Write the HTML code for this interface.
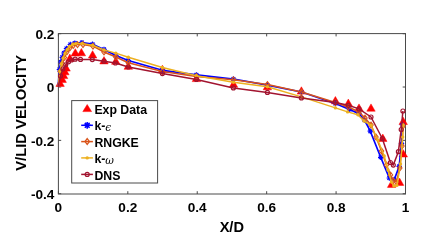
<!DOCTYPE html>
<html><head><meta charset="utf-8"><title>V/LID VELOCITY vs X/D</title>
<style>html,body{margin:0;padding:0;background:#fff;width:448px;height:252px;overflow:hidden}svg{display:block;filter:blur(0.4px)}</style>
</head><body>
<svg width="448" height="252" viewBox="0 0 448 252"><rect x="58.4" y="33.6" width="347.1" height="160.4" fill="#fff" stroke="#4a4a4a" stroke-width="1"/>
<path d="M58.40,194.0V191.2M58.40,33.6V36.4" stroke="#4a4a4a" stroke-width="1"/>
<path d="M127.82,194.0V191.2M127.82,33.6V36.4" stroke="#4a4a4a" stroke-width="1"/>
<path d="M197.24,194.0V191.2M197.24,33.6V36.4" stroke="#4a4a4a" stroke-width="1"/>
<path d="M266.66,194.0V191.2M266.66,33.6V36.4" stroke="#4a4a4a" stroke-width="1"/>
<path d="M336.08,194.0V191.2M336.08,33.6V36.4" stroke="#4a4a4a" stroke-width="1"/>
<path d="M405.50,194.0V191.2M405.50,33.6V36.4" stroke="#4a4a4a" stroke-width="1"/>
<path d="M58.4,33.69H61.199999999999996M405.5,33.69H402.7" stroke="#4a4a4a" stroke-width="1"/>
<path d="M58.4,87.03H61.199999999999996M405.5,87.03H402.7" stroke="#4a4a4a" stroke-width="1"/>
<path d="M58.4,140.37H61.199999999999996M405.5,140.37H402.7" stroke="#4a4a4a" stroke-width="1"/>
<path d="M58.4,193.71H61.199999999999996M405.5,193.71H402.7" stroke="#4a4a4a" stroke-width="1"/>
<path d="M60.1,79.1 L64.3,86.4 L55.9,86.4Z" fill="#ff0000" stroke="#ff0000" stroke-width="0.5"/>
<path d="M62.2,75.1 L66.4,82.4 L58.0,82.4Z" fill="#ff0000" stroke="#ff0000" stroke-width="0.5"/>
<path d="M63.6,71.3 L67.8,78.6 L59.4,78.6Z" fill="#ff0000" stroke="#ff0000" stroke-width="0.5"/>
<path d="M64.9,67.5 L69.1,74.8 L60.7,74.8Z" fill="#ff0000" stroke="#ff0000" stroke-width="0.5"/>
<path d="M66.1,63.8 L70.3,71.1 L61.9,71.1Z" fill="#ff0000" stroke="#ff0000" stroke-width="0.5"/>
<path d="M69.8,54.1 L74.0,61.4 L65.6,61.4Z" fill="#ff0000" stroke="#ff0000" stroke-width="0.5"/>
<path d="M75.3,48.7 L79.5,56.0 L71.1,56.0Z" fill="#ff0000" stroke="#ff0000" stroke-width="0.5"/>
<path d="M81.4,48.5 L85.6,55.8 L77.2,55.8Z" fill="#ff0000" stroke="#ff0000" stroke-width="0.5"/>
<path d="M92.6,50.7 L96.8,58.0 L88.4,58.0Z" fill="#ff0000" stroke="#ff0000" stroke-width="0.5"/>
<path d="M104.0,56.6 L108.2,63.9 L99.8,63.9Z" fill="#ff0000" stroke="#ff0000" stroke-width="0.5"/>
<path d="M115.8,57.0 L120.0,64.3 L111.6,64.3Z" fill="#ff0000" stroke="#ff0000" stroke-width="0.5"/>
<path d="M128.3,62.0 L132.5,69.3 L124.1,69.3Z" fill="#ff0000" stroke="#ff0000" stroke-width="0.5"/>
<path d="M162.4,65.2 L166.6,72.5 L158.2,72.5Z" fill="#ff0000" stroke="#ff0000" stroke-width="0.5"/>
<path d="M196.4,74.3 L200.6,81.6 L192.2,81.6Z" fill="#ff0000" stroke="#ff0000" stroke-width="0.5"/>
<path d="M233.5,80.0 L237.7,87.3 L229.3,87.3Z" fill="#ff0000" stroke="#ff0000" stroke-width="0.5"/>
<path d="M267.4,82.5 L271.6,89.8 L263.2,89.8Z" fill="#ff0000" stroke="#ff0000" stroke-width="0.5"/>
<path d="M301.4,86.8 L305.6,94.1 L297.2,94.1Z" fill="#ff0000" stroke="#ff0000" stroke-width="0.5"/>
<path d="M335.4,96.5 L339.6,103.8 L331.2,103.8Z" fill="#ff0000" stroke="#ff0000" stroke-width="0.5"/>
<path d="M348.3,99.1 L352.5,106.4 L344.1,106.4Z" fill="#ff0000" stroke="#ff0000" stroke-width="0.5"/>
<path d="M359.0,103.9 L363.2,111.2 L354.8,111.2Z" fill="#ff0000" stroke="#ff0000" stroke-width="0.5"/>
<path d="M371.0,103.9 L375.2,111.2 L366.8,111.2Z" fill="#ff0000" stroke="#ff0000" stroke-width="0.5"/>
<path d="M382.8,134.1 L387.0,141.4 L378.6,141.4Z" fill="#ff0000" stroke="#ff0000" stroke-width="0.5"/>
<path d="M391.6,180.1 L395.8,187.4 L387.4,187.4Z" fill="#ff0000" stroke="#ff0000" stroke-width="0.5"/>
<path d="M399.6,178.1 L403.8,185.4 L395.4,185.4Z" fill="#ff0000" stroke="#ff0000" stroke-width="0.5"/>
<path d="M403.3,149.7 L407.5,157.0 L399.1,157.0Z" fill="#ff0000" stroke="#ff0000" stroke-width="0.5"/>
<path d="M403.2,117.2 L407.4,124.5 L399.0,124.5Z" fill="#ff0000" stroke="#ff0000" stroke-width="0.5"/>
<polyline points="58.2,87.0 59.4,69.5 60.9,62.0 62.3,57.3 64.0,53.0 66.5,48.5 70.3,44.5 74.8,43.2 81.9,42.6 92.5,44.2 104.0,49.4 115.8,55.5 128.3,60.5 162.4,70.3 196.4,74.9 233.4,79.0 267.4,85.2 301.4,92.0 335.4,103.5 349.5,109.5 359.0,113.6 364.5,120.0 370.3,131.2 380.7,157.3 389.3,178.0 394.3,179.5 399.2,166.4 401.5,143.7 402.5,125.0" fill="none" stroke="#0000ff" stroke-width="1.7" stroke-linejoin="round"/>
<path d="M56.7,69.5H62.1M59.4,66.8V72.2M57.5,67.6L61.3,71.4M57.5,71.4L61.3,67.6" stroke="#0000ff" stroke-width="1.2" fill="none"/>
<path d="M58.2,62.0H63.6M60.9,59.3V64.7M59.0,60.1L62.8,63.9M59.0,63.9L62.8,60.1" stroke="#0000ff" stroke-width="1.2" fill="none"/>
<path d="M59.6,57.3H65.0M62.3,54.6V60.0M60.4,55.4L64.2,59.2M60.4,59.2L64.2,55.4" stroke="#0000ff" stroke-width="1.2" fill="none"/>
<path d="M61.3,53.0H66.7M64.0,50.3V55.7M62.1,51.1L65.9,54.9M62.1,54.9L65.9,51.1" stroke="#0000ff" stroke-width="1.2" fill="none"/>
<path d="M63.8,48.5H69.2M66.5,45.8V51.2M64.6,46.6L68.4,50.4M64.6,50.4L68.4,46.6" stroke="#0000ff" stroke-width="1.2" fill="none"/>
<path d="M67.6,44.5H73.0M70.3,41.8V47.2M68.4,42.6L72.2,46.4M68.4,46.4L72.2,42.6" stroke="#0000ff" stroke-width="1.2" fill="none"/>
<path d="M72.0,43.2H77.5M74.8,40.5V45.9M72.8,41.3L76.7,45.1M72.8,45.1L76.7,41.3" stroke="#0000ff" stroke-width="1.2" fill="none"/>
<path d="M79.2,42.6H84.6M81.9,39.9V45.3M80.0,40.7L83.8,44.5M80.0,44.5L83.8,40.7" stroke="#0000ff" stroke-width="1.2" fill="none"/>
<path d="M89.8,44.2H95.2M92.5,41.5V46.9M90.6,42.3L94.4,46.1M90.6,46.1L94.4,42.3" stroke="#0000ff" stroke-width="1.2" fill="none"/>
<path d="M101.3,49.4H106.7M104.0,46.7V52.1M102.1,47.5L105.9,51.3M102.1,51.3L105.9,47.5" stroke="#0000ff" stroke-width="1.2" fill="none"/>
<path d="M113.1,55.5H118.5M115.8,52.8V58.2M113.9,53.6L117.7,57.4M113.9,57.4L117.7,53.6" stroke="#0000ff" stroke-width="1.2" fill="none"/>
<path d="M125.6,60.5H131.0M128.3,57.8V63.2M126.4,58.6L130.2,62.4M126.4,62.4L130.2,58.6" stroke="#0000ff" stroke-width="1.2" fill="none"/>
<path d="M159.7,70.3H165.1M162.4,67.6V73.0M160.5,68.4L164.3,72.2M160.5,72.2L164.3,68.4" stroke="#0000ff" stroke-width="1.2" fill="none"/>
<path d="M193.7,74.9H199.1M196.4,72.2V77.6M194.5,73.0L198.3,76.8M194.5,76.8L198.3,73.0" stroke="#0000ff" stroke-width="1.2" fill="none"/>
<path d="M230.7,79.0H236.1M233.4,76.3V81.7M231.5,77.1L235.3,80.9M231.5,80.9L235.3,77.1" stroke="#0000ff" stroke-width="1.2" fill="none"/>
<path d="M264.7,85.2H270.1M267.4,82.5V87.9M265.5,83.3L269.3,87.1M265.5,87.1L269.3,83.3" stroke="#0000ff" stroke-width="1.2" fill="none"/>
<path d="M298.7,92.0H304.1M301.4,89.3V94.7M299.5,90.1L303.3,93.9M299.5,93.9L303.3,90.1" stroke="#0000ff" stroke-width="1.2" fill="none"/>
<path d="M332.7,103.5H338.1M335.4,100.8V106.2M333.5,101.6L337.3,105.4M333.5,105.4L337.3,101.6" stroke="#0000ff" stroke-width="1.2" fill="none"/>
<path d="M346.8,109.5H352.2M349.5,106.8V112.2M347.6,107.6L351.4,111.4M347.6,111.4L351.4,107.6" stroke="#0000ff" stroke-width="1.2" fill="none"/>
<path d="M356.3,113.6H361.7M359.0,110.9V116.3M357.1,111.7L360.9,115.5M357.1,115.5L360.9,111.7" stroke="#0000ff" stroke-width="1.2" fill="none"/>
<path d="M361.8,120.0H367.2M364.5,117.3V122.7M362.6,118.1L366.4,121.9M362.6,121.9L366.4,118.1" stroke="#0000ff" stroke-width="1.2" fill="none"/>
<path d="M367.6,131.2H373.0M370.3,128.5V133.9M368.4,129.3L372.2,133.1M368.4,133.1L372.2,129.3" stroke="#0000ff" stroke-width="1.2" fill="none"/>
<path d="M378.0,157.3H383.4M380.7,154.6V160.0M378.8,155.4L382.6,159.2M378.8,159.2L382.6,155.4" stroke="#0000ff" stroke-width="1.2" fill="none"/>
<path d="M386.6,178.0H392.0M389.3,175.3V180.7M387.4,176.1L391.2,179.9M387.4,179.9L391.2,176.1" stroke="#0000ff" stroke-width="1.2" fill="none"/>
<path d="M391.6,179.5H397.0M394.3,176.8V182.2M392.4,177.6L396.2,181.4M392.4,181.4L396.2,177.6" stroke="#0000ff" stroke-width="1.2" fill="none"/>
<path d="M396.5,166.4H401.9M399.2,163.7V169.1M397.3,164.5L401.1,168.3M397.3,168.3L401.1,164.5" stroke="#0000ff" stroke-width="1.2" fill="none"/>
<path d="M398.8,143.7H404.2M401.5,141.0V146.4M399.6,141.8L403.4,145.6M399.6,145.6L403.4,141.8" stroke="#0000ff" stroke-width="1.2" fill="none"/>
<path d="M399.8,125.0H405.2M402.5,122.3V127.7M400.6,123.1L404.4,126.9M400.6,126.9L404.4,123.1" stroke="#0000ff" stroke-width="1.2" fill="none"/>
<polyline points="58.2,87.0 60.3,71.5 62.2,63.5 64.3,57.5 66.8,52.0 69.8,48.0 73.3,45.5 77.5,44.6 83.0,44.6 93.0,46.2 104.0,52.0 115.8,57.0 128.3,62.8 162.4,71.6 196.4,76.5 233.4,79.8 267.4,84.5 301.4,92.0 335.4,102.5 348.3,107.0 359.0,112.0 365.0,118.0 371.0,125.0 376.0,137.0 381.5,151.0 386.5,165.0 390.5,175.0 393.3,180.7 396.5,182.0 399.8,168.0 402.0,146.0 403.0,126.0" fill="none" stroke="#d95319" stroke-width="1.5" stroke-linejoin="round"/>
<path d="M60.3,68.6L62.5,71.5L60.3,74.4L58.1,71.5Z" stroke="#d95319" stroke-width="1.1" fill="none"/>
<path d="M62.2,60.6L64.4,63.5L62.2,66.4L60.0,63.5Z" stroke="#d95319" stroke-width="1.1" fill="none"/>
<path d="M64.3,54.6L66.5,57.5L64.3,60.4L62.1,57.5Z" stroke="#d95319" stroke-width="1.1" fill="none"/>
<path d="M66.8,49.1L69.0,52.0L66.8,54.9L64.6,52.0Z" stroke="#d95319" stroke-width="1.1" fill="none"/>
<path d="M69.8,45.1L72.0,48.0L69.8,50.9L67.6,48.0Z" stroke="#d95319" stroke-width="1.1" fill="none"/>
<path d="M73.3,42.6L75.5,45.5L73.3,48.4L71.1,45.5Z" stroke="#d95319" stroke-width="1.1" fill="none"/>
<path d="M77.5,41.7L79.7,44.6L77.5,47.5L75.3,44.6Z" stroke="#d95319" stroke-width="1.1" fill="none"/>
<path d="M83.0,41.7L85.2,44.6L83.0,47.5L80.8,44.6Z" stroke="#d95319" stroke-width="1.1" fill="none"/>
<path d="M93.0,43.3L95.2,46.2L93.0,49.1L90.8,46.2Z" stroke="#d95319" stroke-width="1.1" fill="none"/>
<path d="M104.0,49.1L106.2,52.0L104.0,54.9L101.8,52.0Z" stroke="#d95319" stroke-width="1.1" fill="none"/>
<path d="M115.8,54.1L118.0,57.0L115.8,59.9L113.6,57.0Z" stroke="#d95319" stroke-width="1.1" fill="none"/>
<path d="M128.3,59.9L130.5,62.8L128.3,65.7L126.1,62.8Z" stroke="#d95319" stroke-width="1.1" fill="none"/>
<path d="M162.4,68.7L164.6,71.6L162.4,74.5L160.2,71.6Z" stroke="#d95319" stroke-width="1.1" fill="none"/>
<path d="M196.4,73.6L198.6,76.5L196.4,79.4L194.2,76.5Z" stroke="#d95319" stroke-width="1.1" fill="none"/>
<path d="M233.4,76.9L235.6,79.8L233.4,82.7L231.2,79.8Z" stroke="#d95319" stroke-width="1.1" fill="none"/>
<path d="M267.4,81.6L269.6,84.5L267.4,87.4L265.2,84.5Z" stroke="#d95319" stroke-width="1.1" fill="none"/>
<path d="M301.4,89.1L303.6,92.0L301.4,94.9L299.2,92.0Z" stroke="#d95319" stroke-width="1.1" fill="none"/>
<path d="M335.4,99.6L337.6,102.5L335.4,105.4L333.2,102.5Z" stroke="#d95319" stroke-width="1.1" fill="none"/>
<path d="M348.3,104.1L350.5,107.0L348.3,109.9L346.1,107.0Z" stroke="#d95319" stroke-width="1.1" fill="none"/>
<path d="M359.0,109.1L361.2,112.0L359.0,114.9L356.8,112.0Z" stroke="#d95319" stroke-width="1.1" fill="none"/>
<path d="M365.0,115.1L367.2,118.0L365.0,120.9L362.8,118.0Z" stroke="#d95319" stroke-width="1.1" fill="none"/>
<path d="M371.0,122.1L373.2,125.0L371.0,127.9L368.8,125.0Z" stroke="#d95319" stroke-width="1.1" fill="none"/>
<path d="M376.0,134.1L378.2,137.0L376.0,139.9L373.8,137.0Z" stroke="#d95319" stroke-width="1.1" fill="none"/>
<path d="M381.5,148.1L383.7,151.0L381.5,153.9L379.3,151.0Z" stroke="#d95319" stroke-width="1.1" fill="none"/>
<path d="M386.5,162.1L388.7,165.0L386.5,167.9L384.3,165.0Z" stroke="#d95319" stroke-width="1.1" fill="none"/>
<path d="M390.5,172.1L392.7,175.0L390.5,177.9L388.3,175.0Z" stroke="#d95319" stroke-width="1.1" fill="none"/>
<path d="M393.3,177.8L395.5,180.7L393.3,183.6L391.1,180.7Z" stroke="#d95319" stroke-width="1.1" fill="none"/>
<path d="M396.5,179.1L398.7,182.0L396.5,184.9L394.3,182.0Z" stroke="#d95319" stroke-width="1.1" fill="none"/>
<path d="M399.8,165.1L402.0,168.0L399.8,170.9L397.6,168.0Z" stroke="#d95319" stroke-width="1.1" fill="none"/>
<path d="M402.0,143.1L404.2,146.0L402.0,148.9L399.8,146.0Z" stroke="#d95319" stroke-width="1.1" fill="none"/>
<path d="M403.0,123.1L405.2,126.0L403.0,128.9L400.8,126.0Z" stroke="#d95319" stroke-width="1.1" fill="none"/>
<polyline points="58.2,87.0 59.9,71.0 61.5,64.0 63.1,58.3 65.0,53.5 67.2,49.5 69.5,46.5 72.5,44.5 75.6,43.6 81.9,43.5 92.5,45.2 104.0,49.9 115.8,53.1 128.3,57.3 162.4,67.5 196.4,75.7 233.4,82.2 267.4,86.8 301.4,96.9 335.4,107.9 347.6,111.9 357.9,114.8 364.0,121.0 371.0,125.2 377.8,140.0 384.2,156.0 388.0,170.0 391.5,182.0 393.9,186.0 396.9,185.4 400.5,164.0 402.7,137.0 403.2,125.0" fill="none" stroke="#edb120" stroke-width="1.5" stroke-linejoin="round"/>
<circle cx="59.9" cy="71.0" r="1.7" fill="#edb120"/>
<circle cx="61.5" cy="64.0" r="1.7" fill="#edb120"/>
<circle cx="63.1" cy="58.3" r="1.7" fill="#edb120"/>
<circle cx="65.0" cy="53.5" r="1.7" fill="#edb120"/>
<circle cx="67.2" cy="49.5" r="1.7" fill="#edb120"/>
<circle cx="69.5" cy="46.5" r="1.7" fill="#edb120"/>
<circle cx="72.5" cy="44.5" r="1.7" fill="#edb120"/>
<circle cx="75.6" cy="43.6" r="1.7" fill="#edb120"/>
<circle cx="81.9" cy="43.5" r="1.7" fill="#edb120"/>
<circle cx="92.5" cy="45.2" r="1.7" fill="#edb120"/>
<circle cx="104.0" cy="49.9" r="1.7" fill="#edb120"/>
<circle cx="115.8" cy="53.1" r="1.7" fill="#edb120"/>
<circle cx="128.3" cy="57.3" r="1.7" fill="#edb120"/>
<circle cx="162.4" cy="67.5" r="1.7" fill="#edb120"/>
<circle cx="196.4" cy="75.7" r="1.7" fill="#edb120"/>
<circle cx="233.4" cy="82.2" r="1.7" fill="#edb120"/>
<circle cx="267.4" cy="86.8" r="1.7" fill="#edb120"/>
<circle cx="301.4" cy="96.9" r="1.7" fill="#edb120"/>
<circle cx="335.4" cy="107.9" r="1.7" fill="#edb120"/>
<circle cx="347.6" cy="111.9" r="1.7" fill="#edb120"/>
<circle cx="357.9" cy="114.8" r="1.7" fill="#edb120"/>
<circle cx="364.0" cy="121.0" r="1.7" fill="#edb120"/>
<circle cx="371.0" cy="125.2" r="1.7" fill="#edb120"/>
<circle cx="377.8" cy="140.0" r="1.7" fill="#edb120"/>
<circle cx="384.2" cy="156.0" r="1.7" fill="#edb120"/>
<circle cx="388.0" cy="170.0" r="1.7" fill="#edb120"/>
<circle cx="391.5" cy="182.0" r="1.7" fill="#edb120"/>
<circle cx="393.9" cy="186.0" r="1.7" fill="#edb120"/>
<circle cx="396.9" cy="185.4" r="1.7" fill="#edb120"/>
<circle cx="400.5" cy="164.0" r="1.7" fill="#edb120"/>
<circle cx="402.7" cy="137.0" r="1.7" fill="#edb120"/>
<circle cx="403.2" cy="125.0" r="1.7" fill="#edb120"/>
<polyline points="58.2,87.0 60.5,76.0 62.9,69.0 65.7,64.8 68.5,61.8 71.5,60.0 75.2,59.2 80.5,59.4 92.3,59.6 104.0,61.2 115.4,63.0 128.3,67.0 162.4,73.6 196.4,79.4 233.4,87.9 267.4,92.4 301.4,97.9 335.4,102.4 348.3,105.3 359.0,108.9 371.0,117.0 382.3,138.5 390.4,162.5 393.3,165.1 398.4,151.7 401.2,129.5 402.9,111.0" fill="none" stroke="#a2142f" stroke-width="1.5" stroke-linejoin="round"/>
<circle cx="60.5" cy="76.0" r="2.0" stroke="#a2142f" stroke-width="1.2" fill="none"/>
<circle cx="62.9" cy="69.0" r="2.0" stroke="#a2142f" stroke-width="1.2" fill="none"/>
<circle cx="65.7" cy="64.8" r="2.0" stroke="#a2142f" stroke-width="1.2" fill="none"/>
<circle cx="68.5" cy="61.8" r="2.0" stroke="#a2142f" stroke-width="1.2" fill="none"/>
<circle cx="71.5" cy="60.0" r="2.0" stroke="#a2142f" stroke-width="1.2" fill="none"/>
<circle cx="75.2" cy="59.2" r="2.0" stroke="#a2142f" stroke-width="1.2" fill="none"/>
<circle cx="80.5" cy="59.4" r="2.0" stroke="#a2142f" stroke-width="1.2" fill="none"/>
<circle cx="92.3" cy="59.6" r="2.0" stroke="#a2142f" stroke-width="1.2" fill="none"/>
<circle cx="104.0" cy="61.2" r="2.0" stroke="#a2142f" stroke-width="1.2" fill="none"/>
<circle cx="115.4" cy="63.0" r="2.0" stroke="#a2142f" stroke-width="1.2" fill="none"/>
<circle cx="128.3" cy="67.0" r="2.0" stroke="#a2142f" stroke-width="1.2" fill="none"/>
<circle cx="162.4" cy="73.6" r="2.0" stroke="#a2142f" stroke-width="1.2" fill="none"/>
<circle cx="196.4" cy="79.4" r="2.0" stroke="#a2142f" stroke-width="1.2" fill="none"/>
<circle cx="233.4" cy="87.9" r="2.0" stroke="#a2142f" stroke-width="1.2" fill="none"/>
<circle cx="267.4" cy="92.4" r="2.0" stroke="#a2142f" stroke-width="1.2" fill="none"/>
<circle cx="301.4" cy="97.9" r="2.0" stroke="#a2142f" stroke-width="1.2" fill="none"/>
<circle cx="335.4" cy="102.4" r="2.0" stroke="#a2142f" stroke-width="1.2" fill="none"/>
<circle cx="348.3" cy="105.3" r="2.0" stroke="#a2142f" stroke-width="1.2" fill="none"/>
<circle cx="359.0" cy="108.9" r="2.0" stroke="#a2142f" stroke-width="1.2" fill="none"/>
<circle cx="371.0" cy="117.0" r="2.0" stroke="#a2142f" stroke-width="1.2" fill="none"/>
<circle cx="382.3" cy="138.5" r="2.0" stroke="#a2142f" stroke-width="1.2" fill="none"/>
<circle cx="390.4" cy="162.5" r="2.0" stroke="#a2142f" stroke-width="1.2" fill="none"/>
<circle cx="393.3" cy="165.1" r="2.0" stroke="#a2142f" stroke-width="1.2" fill="none"/>
<circle cx="398.4" cy="151.7" r="2.0" stroke="#a2142f" stroke-width="1.2" fill="none"/>
<circle cx="401.2" cy="129.5" r="2.0" stroke="#a2142f" stroke-width="1.2" fill="none"/>
<circle cx="402.9" cy="111.0" r="2.0" stroke="#a2142f" stroke-width="1.2" fill="none"/>
<g font-family="Liberation Sans, Arial, sans-serif" font-weight="bold" font-size="13.6" fill="#000"><text x="54.4" y="39.0" text-anchor="end">0.2</text><text x="54.4" y="92.3" text-anchor="end">0</text><text x="54.4" y="145.7" text-anchor="end">-0.2</text><text x="54.4" y="199.0" text-anchor="end">-0.4</text><text x="58.4" y="211.6" text-anchor="middle">0</text><text x="127.8" y="211.6" text-anchor="middle">0.2</text><text x="197.2" y="211.6" text-anchor="middle">0.4</text><text x="266.7" y="211.6" text-anchor="middle">0.6</text><text x="336.1" y="211.6" text-anchor="middle">0.8</text><text x="405.5" y="211.6" text-anchor="middle">1</text></g>
<text x="231.8" y="231.8" text-anchor="middle" font-family="Liberation Sans, Arial, sans-serif" font-weight="bold" font-size="14.6">X/D</text>
<text transform="translate(26.4,112.9) rotate(-90)" x="0" y="0" text-anchor="middle" font-family="Liberation Sans, Arial, sans-serif" font-weight="bold" font-size="14.8">V/LID VELOCITY</text>
<rect x="71.7" y="100.6" width="85.9" height="82.4" fill="#fff" stroke="#4a4a4a" stroke-width="1"/>
<path d="M87.2,104.5 L91.6,111.6 L82.8,111.6Z" fill="#ff0000" stroke="#ff0000" stroke-width="0.5"/>
<path d="M81.2,125.3H92.9" stroke="#0000ff" stroke-width="1.5"/>
<path d="M83.8,125.3H90.6M87.2,121.9V128.7M84.8,122.9L89.6,127.7M84.8,127.7L89.6,122.9" stroke="#0000ff" stroke-width="1.5" fill="none"/>
<path d="M81.2,141.6H92.9" stroke="#d95319" stroke-width="1.5"/>
<path d="M87.2,138.7L89.4,141.6L87.2,144.5L85.0,141.6Z" stroke="#d95319" stroke-width="1.3" fill="none"/>
<path d="M81.2,157.9H92.9" stroke="#edb120" stroke-width="1.5"/>
<circle cx="87.2" cy="157.9" r="1.7" fill="#edb120"/>
<path d="M81.2,174.4H92.9" stroke="#a2142f" stroke-width="1.5"/>
<circle cx="87.2" cy="174.4" r="2.0" stroke="#a2142f" stroke-width="1.2" fill="none"/>
<text x="94.4" y="113.9" font-family="Liberation Sans, Arial, sans-serif" font-weight="bold" font-size="12.3">Exp Data</text>
<text x="94.4" y="130.3" font-family="Liberation Sans, Arial, sans-serif" font-weight="bold" font-size="12.3">k-<tspan font-family="DejaVu Serif, serif" font-style="italic" font-weight="normal" font-size="10.6" dy="0.5">ϵ</tspan></text>
<text x="94.4" y="146.7" font-family="Liberation Sans, Arial, sans-serif" font-weight="bold" font-size="12.3">RNGKE</text>
<text x="94.4" y="163.1" font-family="Liberation Sans, Arial, sans-serif" font-weight="bold" font-size="12.3">k-<tspan font-family="DejaVu Serif, serif" font-style="italic" font-weight="normal" font-size="10.6" dy="0.6">ω</tspan></text>
<text x="94.4" y="179.5" font-family="Liberation Sans, Arial, sans-serif" font-weight="bold" font-size="12.3">DNS</text></svg>
</body></html>
